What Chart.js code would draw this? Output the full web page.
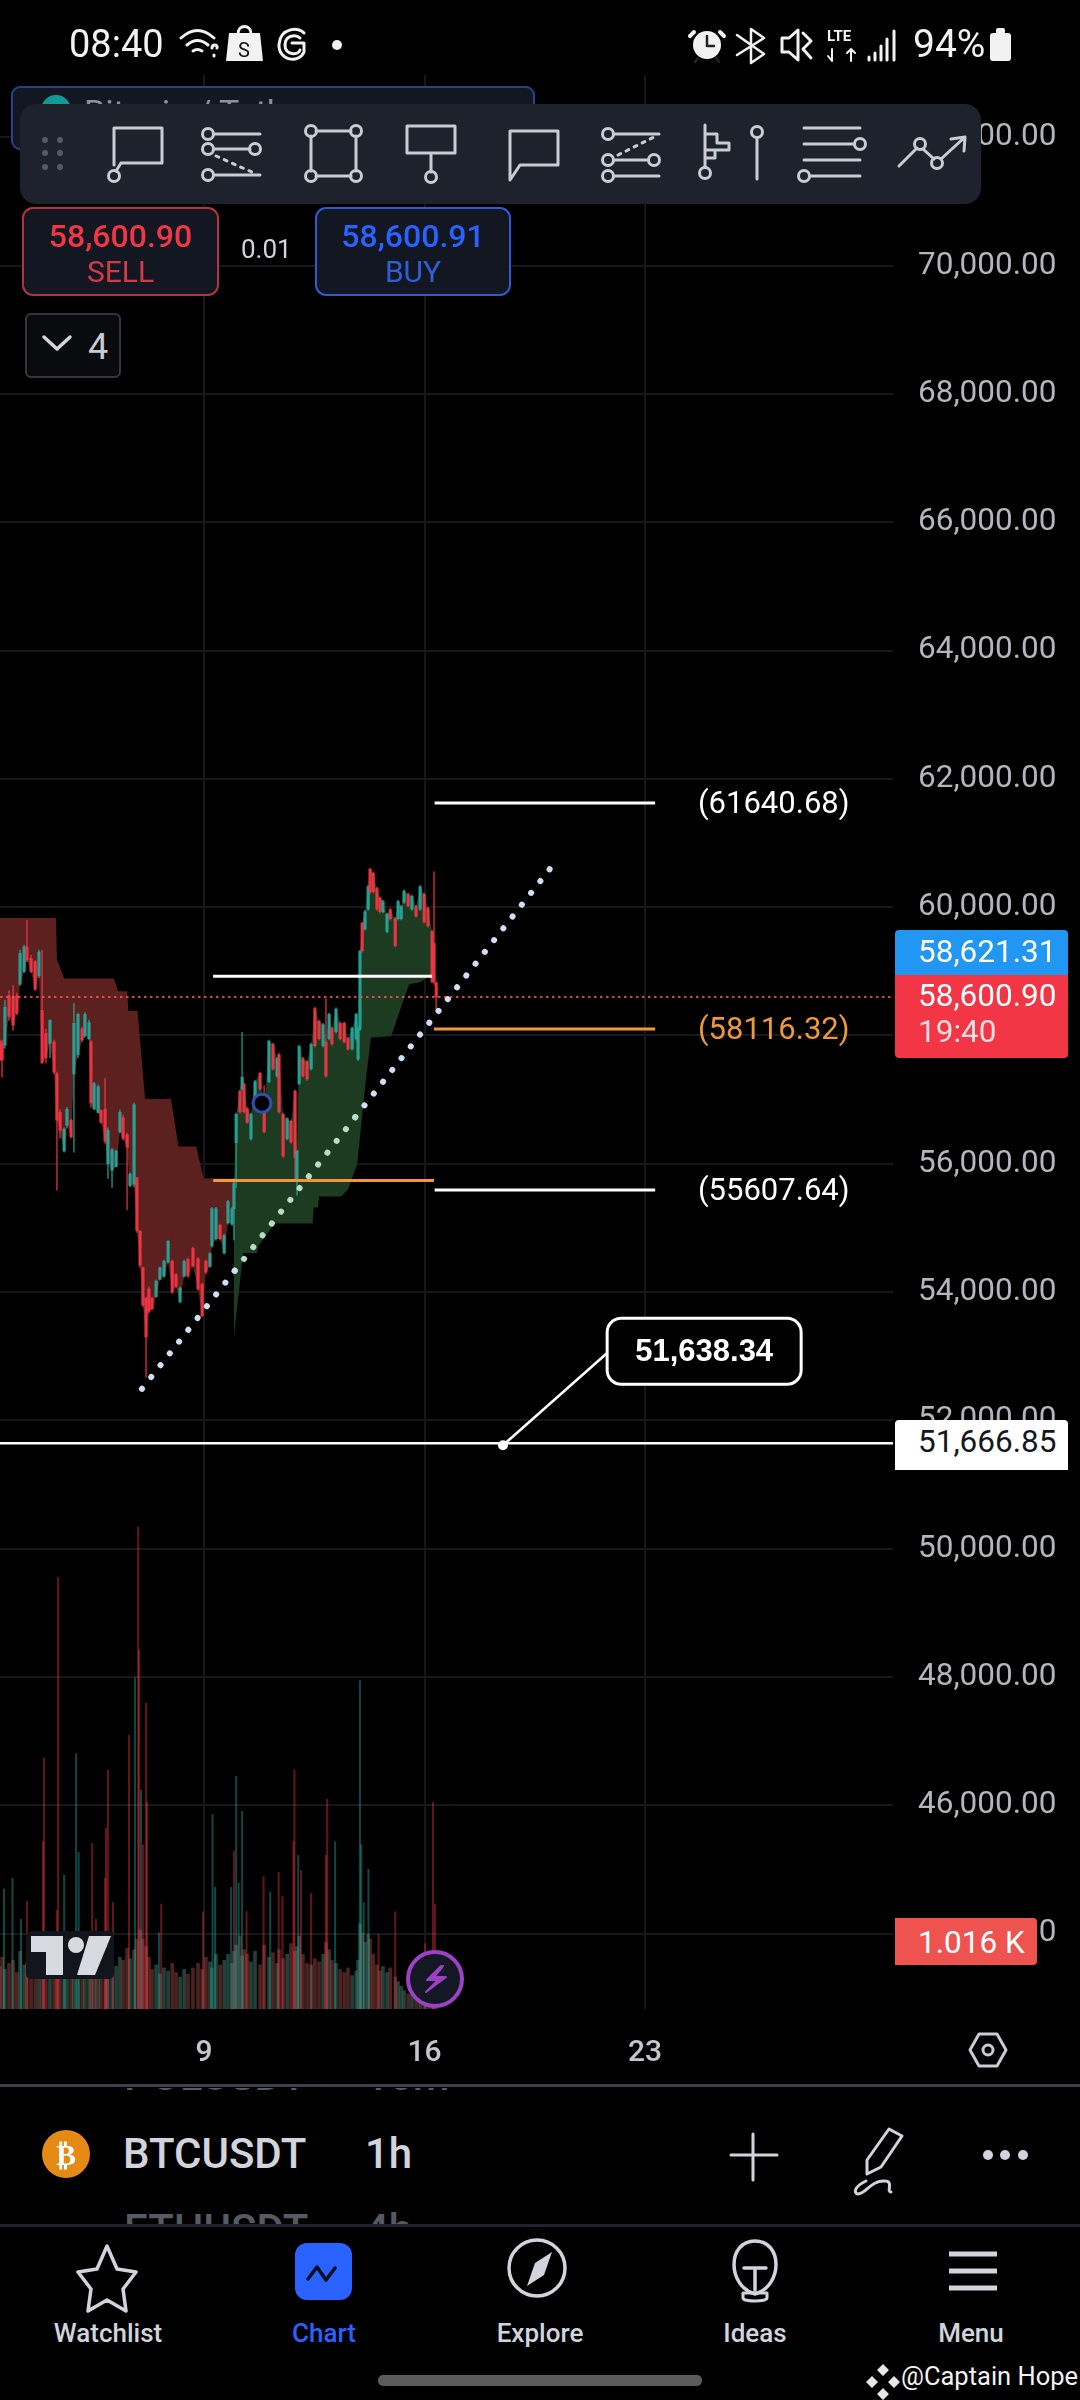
<!DOCTYPE html>
<html>
<head>
<meta charset="utf-8">
<title>BTCUSDT 1h</title>
<script src="https://cdn.jsdelivr.net/npm/chart.js@4"></script>
<style>
  html, body { margin: 0; padding: 0; background: #000; }
  body { position: relative; width: 1080px; height: 2400px; overflow: hidden; font-family: Roboto, sans-serif; color: #d1d4dc; }
  canvas { position: absolute; left: 0; top: 0; }
  svg { position: absolute; left: 0; top: 0; }
  .t { position: absolute; white-space: nowrap; line-height: 1; }
  .box { position: absolute; box-sizing: border-box; }
  .nav { position: absolute; top: 2320px; width: 200px; text-align: center; font-size: 26px; font-weight: 500; line-height: 1; color: #d1d4dc; }
</style>
</head>
<body>
<canvas id="chart" width="1080" height="2085"></canvas>

<!-- header behind the toolbar -->
<div class="box" style="left:11px;top:86px;width:524px;height:64px;background:#131722;border:2px solid #24428f;border-radius:9px;overflow:hidden">
  <div class="box" style="left:28px;top:7px;width:30px;height:30px;border-radius:15px;background:#0f9c94"></div>
  <div class="t" style="left:71px;top:7px;font-size:34px;color:#8d919b">Bitcoin / Tether</div>
</div>
<div class="box" style="left:20px;top:104px;width:961px;height:100px;background:#1e222d;border-radius:16px"></div>

<!-- order buttons -->
<div class="box" style="left:22px;top:207px;width:197px;height:89px;background:#131722;border:2px solid #b3333f;border-radius:11px"></div>
<div class="t" style="left:22px;width:197px;text-align:center;top:220px;font-size:32px;font-weight:500;color:#f23645">58,600.90</div>
<div class="t" style="left:22px;width:197px;text-align:center;top:257px;font-size:30px;color:#d13a46">SELL</div>
<div class="t" style="left:241px;top:236px;font-size:26px;color:#d1d4dc">0.01</div>
<div class="box" style="left:315px;top:207px;width:196px;height:89px;background:#131722;border:2px solid #2e5bd0;border-radius:11px"></div>
<div class="t" style="left:315px;width:196px;text-align:center;top:220px;font-size:32px;font-weight:500;color:#2962ff">58,600.91</div>
<div class="t" style="left:315px;width:196px;text-align:center;top:257px;font-size:30px;color:#2f5fd8">BUY</div>
<div class="box" style="left:25px;top:313px;width:96px;height:65px;background:#0a0b0e;border:2px solid #33363e;border-radius:6px"></div>
<div class="t" style="left:88px;top:329px;font-size:36px;color:#c9ccd3">4</div>

<!-- status bar -->
<div class="t" style="left:69px;top:25px;font-size:38px;color:#f2f2f2">08:40</div>
<div class="t" style="left:913px;top:25px;font-size:39px;color:#f2f2f2">94%</div>
<div class="t" style="left:827px;top:29px;font-size:15px;font-weight:700;color:#f2f2f2">LTE</div>

<!-- price labels -->
<div class="box" style="left:895px;top:930px;width:173px;height:45px;background:#2196f3;border-radius:4px 4px 0 0"></div>
<div class="t" style="left:918px;top:936px;font-size:31.5px;color:#fff">58,621.31</div>
<div class="box" style="left:895px;top:975px;width:173px;height:83px;background:#f23645;border-radius:0 0 4px 4px"></div>
<div class="t" style="left:918px;top:980px;font-size:31.5px;color:#fff">58,600.90</div>
<div class="t" style="left:918px;top:1016px;font-size:31.5px;color:#f9dfe1">19:40</div>
<div class="box" style="left:895px;top:1420px;width:173px;height:50px;background:#fff;border-radius:4px 4px 0 0"></div>
<div class="t" style="left:918px;top:1426px;font-size:31.5px;color:#131722">51,666.85</div>
<div class="box" style="left:895px;top:1918px;width:142px;height:47px;background:#ef5350;border-radius:0 4px 4px 0"></div>
<div class="t" style="left:918px;top:1927px;font-size:31.5px;color:#fff">1.016 K</div>

<!-- bottom bar -->
<div class="box" style="left:0;top:2088px;width:1080px;height:8px;overflow:hidden">
  <div class="t" style="left:124px;top:-33px;font-size:42px;font-weight:500;color:#555a63">POLUSDT</div>
  <div class="t" style="left:365px;top:-33px;font-size:42px;font-weight:500;color:#555a63">15m</div>
</div>
<div class="box" style="left:0;top:2084px;width:1080px;height:3px;background:#3c404b"></div>
<div class="t" style="left:123px;top:2133px;font-size:42px;font-weight:500;color:#d1d4dc">BTCUSDT</div>
<div class="t" style="left:365px;top:2133px;font-size:42px;font-weight:500;color:#d1d4dc">1h</div>
<div class="box" style="left:0;top:2212px;width:1080px;height:12px;overflow:hidden">
  <div class="t" style="left:124px;top:-3px;font-size:42px;font-weight:500;color:#555a63">ETHUSDT</div>
  <div class="t" style="left:365px;top:-3px;font-size:42px;font-weight:500;color:#555a63">4h</div>
</div>
<div class="box" style="left:0;top:2224px;width:1080px;height:3px;background:#1e222d"></div>
<div class="nav" style="left:8px">Watchlist</div>
<div class="nav" style="left:224px;color:#2962ff">Chart</div>
<div class="nav" style="left:440px">Explore</div>
<div class="nav" style="left:655px">Ideas</div>
<div class="nav" style="left:871px">Menu</div>
<div class="box" style="left:378px;top:2375px;width:324px;height:11px;background:#5c5c5c;border-radius:5px"></div>
<div class="t" style="left:901px;top:2364px;font-size:25.5px;color:#f2f2f2">@Captain Hope</div>

<svg width="1080" height="2400" viewBox="0 0 1080 2400" fill="none" stroke-linecap="round" stroke-linejoin="round">
  <!-- status icons -->
  <g stroke="#f2f2f2" stroke-width="3">
    <path d="M181 38c11-10 22-10 33 0M187 45c7-6 14-6 21 0M193 51c3-2 6-2 9 0"/>
    <path d="M212 48c0-4 6-4 5 0M214 55v1"/>
    <path d="M238 34c0-10 13-10 13 0"/>
    <path d="M304 33c-5-6-23-6-25 11c-1 17 20 20 25 8v-9h-12M300 38c-4-4-15-3-15 7c0 10 13 11 15 5"/>
    <path d="M737 35l27 19-13 9V29l13 9-27 17" stroke-width="2.5"/>
    <path d="M782 38h7l9-8v30l-9-8h-7zM803 33l8 8-8 8 8 9"/>
    <path d="M832 49v12M828 56l4 5M851 61V49M847 53l4-4 4 4" stroke-width="2"/>
  </g>
  <path d="M229 33h31l3 28h-37z" fill="#f2f2f2"/>
  <text x="238" y="57" font-size="20" font-family="Roboto" fill="#111">S</text>
  <circle cx="337" cy="45" r="5" fill="#f2f2f2"/>
  <circle cx="707" cy="45" r="14" fill="#f2f2f2"/>
  <path d="M707 36v10h7M698 58l-3 4M716 58l3 4" stroke="#222" stroke-width="2.5"/>
  <path d="M694 32l-4 4M720 32l4 4" stroke="#f2f2f2" stroke-width="4"/>
  <path d="M869 60v-3M875 60v-7M881 60V46M887 60V39M894 60V31" stroke="#f2f2f2" stroke-width="3"/>
  <rect x="990" y="33" width="21" height="28" rx="3" fill="#f2f2f2"/>
  <rect x="996" y="28" width="9" height="6" rx="2" fill="#f2f2f2"/>

  <!-- toolbar icons -->
  <circle cx="45" cy="140" r="3" fill="#555a66"/><circle cx="60" cy="140" r="3" fill="#555a66"/>
  <circle cx="45" cy="153" r="3" fill="#555a66"/><circle cx="60" cy="153" r="3" fill="#555a66"/>
  <circle cx="45" cy="167" r="3" fill="#555a66"/><circle cx="60" cy="167" r="3" fill="#555a66"/>
  <g stroke="#c9ccd3" stroke-width="3">
    <path d="M114 165V128h48v35h-41l-5 8"/><circle cx="114" cy="176" r="5.5"/>
    <path d="M214 134h46M214 149h36M214 175h46"/><circle cx="208" cy="134" r="5.5"/><circle cx="208" cy="149" r="5.5"/><circle cx="255" cy="149" r="5.5"/><circle cx="208" cy="175" r="5.5"/>
    <path d="M216 156l38 17" stroke-dasharray="3 6"/>
    <path d="M316 131h35M316 176h35M311 136v35M356 136v35"/><circle cx="311" cy="131" r="5.5"/><circle cx="356" cy="131" r="5.5"/><circle cx="311" cy="176" r="5.5"/><circle cx="356" cy="176" r="5.5"/>
    <path d="M407 126h48v27h-48zM431 153v19"/><circle cx="431" cy="177" r="5.5"/>
    <path d="M510 131h48v34h-38l-10 15z"/>
    <path d="M614 134h45M614 160h34M614 176h45"/><circle cx="608" cy="134" r="5.5"/><circle cx="608" cy="160" r="5.5"/><circle cx="654" cy="160" r="5.5"/><circle cx="608" cy="176" r="5.5"/>
    <path d="M618 155l36-18" stroke-dasharray="3 6"/>
    <path d="M705 125v42M705 134h12v9h12v7h-24M705 150h10v8h-10"/><circle cx="705" cy="173" r="5.5"/>
    <path d="M757 138v41"/><circle cx="757" cy="132" r="5.5"/>
    <path d="M804 128h56M804 144h50M804 160h56M811 176h49"/><circle cx="860" cy="144" r="5.5"/><circle cx="804" cy="176" r="5.5"/>
    <path d="M899 166l18-18M923 149l11 10M941 159l24-22M951 139l14-2-1 14"/><circle cx="920" cy="144" r="5.5"/><circle cx="937" cy="163" r="5.5"/>
  </g>
  <path d="M44 337l13 12 13-12" stroke="#d1d4dc" stroke-width="3.5"/>

  <!-- watermark logo -->
  <rect x="26" y="1931" width="88" height="48" rx="5" fill="#12151d"/>
  <path d="M31 1936h32v39H46v-23H31z" fill="#d8dae2"/>
  <circle cx="76" cy="1945" r="8" fill="#d8dae2"/>
  <path d="M89 1936h22l-16 39H77z" fill="#d8dae2"/>

  <!-- bolt badge -->
  <circle cx="435" cy="1979" r="27" fill="#141824" stroke="#9c40c4" stroke-width="4"/>
  <path d="M441 1966l-14 14h11l-12 12 20-15h-12l9-11z" fill="#9c40c4" stroke="#9c40c4" stroke-width="2"/>

  <!-- settings hexagon -->
  <path d="M970 2050l9-16h18l9 16-9 16h-18z" stroke="#c9ccd3" stroke-width="3"/>
  <circle cx="988" cy="2050" r="5" stroke="#c9ccd3" stroke-width="3"/>

  <!-- symbol row -->
  <circle cx="66" cy="2154" r="24" fill="#e58a14"/>
  <text x="66" y="2165" text-anchor="middle" font-family="Roboto" font-weight="700" font-size="30" fill="#fff">₿</text>
  <path d="M753 2134v46M731 2155h46" stroke="#d1d4dc" stroke-width="3"/>
  <path d="M867 2160l22-31 13 7-21 31-14 7zM866 2181c-13 6-12 13-8 13 8 0 13-14 27-13 9 0 1 11 6 11" stroke="#d1d4dc" stroke-width="3"/>
  <circle cx="988" cy="2155" r="5" fill="#d1d4dc"/><circle cx="1005" cy="2155" r="5" fill="#d1d4dc"/><circle cx="1023" cy="2155" r="5" fill="#d1d4dc"/>

  <!-- nav icons -->
  <path d="M107 2246l10 23 19 3-13 17 3 22-19-11-19 11 3-22-13-17 19-3z" stroke="#d1d4dc" stroke-width="3.5"/>
  <rect x="295" y="2243" width="57" height="57" rx="12" fill="#2962ff"/>
  <path d="M308 2279l9-12 9 13 9-12" stroke="#0b0f1c" stroke-width="3.5"/>
  <circle cx="537" cy="2268" r="28" stroke="#d1d4dc" stroke-width="3.5"/>
  <path d="M552 2252l-8 23-17 11 8-23z" fill="#d1d4dc"/>
  <path d="M755 2294c-28-8-28-53 0-53s28 45 0 53zM744 2268h22M755 2268v22" stroke="#d1d4dc" stroke-width="3.5"/>
  <path d="M743 2293h24v5c0 4-24 4-24 0z" stroke="#d1d4dc" stroke-width="3"/>
  <path d="M949 2254h48M949 2271h48M949 2288h48" stroke="#d1d4dc" stroke-width="5" stroke-linecap="butt"/>

  <!-- watermark diamonds -->
  <path d="M883 2364l6 6-6 6-6-6zM883 2388l6 6-6 6-6-6zM872 2376l6 6-6 6-6-6zM894 2376l6 6-6 6-6-6z" fill="#e6e6e6"/>
</svg>

<script>
// Price chart values (hourly candles, x is day of the month)
const candleDays = [2.52,2.59,2.68,2.81,2.94,3.06,3.16,3.29,3.38,3.51,3.64,3.76,3.86,3.98,4.11,4.24,4.33,4.43,4.56,4.65,4.78,4.87,5.00,5.13,5.22,5.35,5.41,5.51,5.64,5.73,5.86,5.95,6.08,6.21,6.33,6.43,6.56,6.65,6.78,6.87,6.97,7.06,7.16,7.25,7.35,7.48,7.60,7.73,7.86,7.99,8.11,8.24,8.37,8.49,8.65,8.81,8.94,9.06,9.19,9.25,9.38,9.51,9.64,9.76,9.89,9.95,10.02,10.14,10.21,10.27,10.37,10.49,10.62,10.78,10.91,11.06,11.19,11.32,11.38,11.51,11.64,11.76,11.89,11.95,12.02,12.14,12.27,12.40,12.52,12.65,12.78,12.87,12.97,13.06,13.19,13.32,13.45,13.57,13.70,13.83,13.89,13.95,14.02,14.11,14.21,14.27,14.37,14.49,14.59,14.68,14.81,14.91,15.07,15.16,15.26,15.35,15.48,15.60,15.73,15.86,15.99,16.11,16.24,16.30,16.37];
const candleOpen = [57900,57880,57850,58620,58600,58620,58800,59000,59380,59200,59150,58930,58390,58030,57880,57900,57400,56800,56200,56600,56680,57400,57700,58100,58000,57950,57900,56860,56800,56830,56850,56000,55900,55960,56500,56720,56450,55660,55680,55780,54950,54380,53900,54050,53900,53930,54200,54250,54470,54480,54270,53850,54250,54510,54680,54520,54120,54480,54400,54720,54830,55040,54610,55080,55060,55300,56330,57130,57160,57240,56860,56390,57000,57410,56790,57280,57860,57370,57700,56770,56390,56660,57130,55750,57250,57640,57590,57480,58420,58220,57840,57900,57950,58110,58060,58190,58190,57950,57790,57950,57630,58100,59750,59660,59970,60590,60530,60290,60140,59930,59620,59960,59820,59820,59820,60080,60200,59970,60010,59970,60200,59980,59620,59440,58820];
const candleClose = [57620,57620,58440,58300,58160,58350,59280,59380,59180,59000,58720,59300,57570,57650,58240,57430,56680,56520,56540,56850,56420,58190,58330,57930,58330,58200,56950,57250,57200,56650,56350,56520,56220,56200,56800,56400,56260,55840,56920,54960,54420,53800,53300,53700,53740,54170,54380,54480,54790,54000,54090,54060,54480,54250,54410,54050,53630,54310,54600,55300,55300,54830,54880,55410,55300,55700,56770,56810,57350,56810,56650,56770,57280,57170,56500,57910,57480,57640,56810,56120,56700,56340,56100,56200,57830,57370,57320,57860,57840,57950,58170,57370,58330,57870,58410,57950,57900,57790,58110,58330,58110,59310,59320,59930,60320,60240,60240,59970,59930,60090,59890,59820,59400,60090,60010,60250,60020,60170,59860,60320,59770,59710,58840,58840,58600];
const candleHigh = [57930,57930,58550,58700,58780,58660,59330,59410,59800,59250,59170,59330,59330,58100,58240,57930,57430,56840,56560,56880,56700,58500,58350,58130,58360,58240,57930,57270,57230,56840,57330,56560,56240,56210,56840,56760,56480,55860,56950,55790,54960,54390,53920,54080,53920,54190,54390,54500,54810,54500,54290,54080,54500,54530,54700,54540,54140,54500,54610,55320,55320,55060,54900,55430,55320,55770,56790,57150,58050,57260,56880,56790,57300,57430,57220,57930,57880,57660,57720,56790,56720,56680,57150,56210,57850,57660,57610,57880,58440,58240,58190,58570,58350,58130,58430,58210,58210,57970,58130,58350,58130,59330,59770,59950,60340,60610,60550,60310,60160,60110,59910,59980,59840,60110,60030,60270,60220,60190,60030,60340,60220,60000,59640,60550,58840];
const candleLow = [57600,57350,57800,58240,58080,58320,58780,58980,59150,58980,58700,58900,57570,57570,57650,57400,55590,56400,56180,56560,56400,56180,57650,57900,57970,57930,56880,56840,56790,56630,56320,55770,55630,55950,56480,56370,55280,55640,55640,54930,54390,53770,52670,53670,53720,53920,54190,54230,54450,53980,54070,53830,54230,54230,54390,54030,53610,54290,54390,54700,54810,54810,54590,55060,55040,54810,55630,56790,57150,56790,56630,56370,56990,57150,56480,57260,57460,57350,56790,56100,56370,56320,55740,55510,57230,57350,57300,57460,57820,57930,57820,57350,57930,57850,58040,57930,57880,57770,57770,57930,57610,58080,59300,59640,59950,60220,60220,59950,59910,59910,59600,59800,59380,59800,59800,60060,60000,59950,59840,59950,59750,59690,58820,58800,58390];

// Volume in thousands, base level per candle and the tall spikes on their own days
const candleVolume = [2.8,3.4,2.6,3.0,3.2,2.4,3.8,2.9,3.1,2.5,2.7,3.3,3.5,2.6,3.1,3.6,2.9,4.2,3.3,2.7,3.0,4.4,3.7,3.2,2.9,3.4,3.0,3.6,2.8,3.3,4.1,3.5,3.0,2.8,3.4,3.2,4.0,3.3,3.9,4.6,5.2,4.6,4.1,3.4,2.6,2.9,2.3,2.7,2.5,3.0,2.4,2.1,2.6,2.3,2.7,3.0,2.6,3.4,3.1,2.7,3.6,2.9,3.2,3.6,3.0,3.8,4.2,4.8,3.5,3.9,3.6,3.1,3.8,2.9,4.2,3.4,3.7,3.0,3.9,3.3,3.6,4.3,3.8,4.1,4.8,3.6,3.0,2.9,3.3,3.1,3.6,4.4,3.9,3.2,3.0,2.6,2.4,2.7,2.2,2.5,3.2,5.6,5.0,4.4,4.9,4.6,3.6,2.9,2.5,2.8,2.4,2.7,2.1,1.8,1.5,1.2,1.0,0.9,0.7,0.8,0.9,0.8,1.3,1.6,1.016];
const downSpikeDays = [3.38,3.89,3.92,4.33,4.37,5.45,5.57,5.86,5.89,5.95,6.11,6.62,6.91,6.94,7.06,7.16,7.19,7.64,8.97,9.95,10.35,10.89,11.37,11.49,11.84,11.87,12.08,12.40,12.87,12.91,14.54,15.07,16.02,16.27,16.33];
const downSpikeVolume = [7.1,11.0,16.5,6.5,28.4,10.9,5.9,8.6,11.9,15.7,7.0,18.0,31.7,23.6,10.8,20.1,13.6,6.9,6.4,10.4,6.4,8.7,9.0,7.4,11.0,15.7,9.1,7.6,10.1,13.8,4.9,6.4,4.3,13.6,6.9];
const upSpikeDays = [2.65,2.92,3.19,4.56,4.94,5.02,6.81,7.00,7.57,9.27,9.35,9.86,10.02,10.10,10.21,11.10,11.99,13.16,13.95,13.99,14.07,14.22];
const upSpikeVolume = [7.9,8.6,5.9,8.8,16.8,10.3,21.8,14.4,5.0,12.8,8.0,8.0,15.3,8.3,13.0,7.7,10.1,11.0,21.6,10.8,7.0,9.2];

// Step edges of the shaded cloud
const redEdgeDays = [2.52,4.30,4.33,4.51,4.56,6.14,6.27,6.56,6.60,6.89,7.13,7.95,8.19,8.75,8.99,9.95];
const redEdgePrices = [59830,59830,59190,58960,58890,58890,58690,58690,58380,58380,57010,57010,56270,56270,55770,55770];
const greenEdgeDays = [9.95,10.24,10.68,10.72,11.25,12.45,12.48,12.62,12.65,13.35,13.57,13.86,14.14,14.30,14.94,15.33,15.51,15.86,16.24];
const greenEdgePrices = [53310,54610,54610,54720,55070,55070,55320,55320,55490,55490,55600,55990,57320,57970,57990,58550,58800,58830,58940];

// Drawn levels and the trend line
const fullDays = [2.524,30.87];
const lastPrice = 58600.9;
const markedPrice = 51645;
const whiteLevelStart = [16.32,16.32,9.29];
const whiteLevelEnd = [23.32,23.32,16.24];
const whiteLevelPrice = [61625,55590,58924];
const orangeLevelStart = [16.30,9.29];
const orangeLevelEnd = [23.32,16.30];
const orangeLevelPrice = [58100,55740];
const levelLabels = ["(61640.68)","(58116.32)","(55607.64)"];
const levelLabelPrices = [61625,58100,55590];
const levelLabelDay = 24.68;
const trendDays = [7.03,9.975,13.80,20.0];
const trendPrices = [52492,54333,56726,60610];
const calloutDays = [18.49,21.86];
const calloutPrices = [51613,53078];
const calloutText = "51,638.34";
const markerDay = 10.84;
const markerPrice = 56944;

// Axis ticks
const dayTicks = [9,16,23];
const priceMin = 42824;
const priceMax = 72973;
const priceStep = 2000;
const volumeMax = 127.2;

const RED = "rgba(242,54,69,0.88)";
const TEAL = "rgba(38,166,154,0.88)";

function zip(xs, ys) {
    return xs.map((x, i) => ({ x: x, y: ys[i] }));
}

function candleColors(up, down) {
    return candleOpen.map((o, i) => candleClose[i] >= o ? up : down);
}

// Top or bottom of the candle bodies inside a day range, for the cloud fill
function bodyEdge(from, to, pick) {
    const out = [];
    candleDays.forEach((d, i) => {
        if (d >= from && d <= to) out.push({ x: d, y: pick(candleOpen[i], candleClose[i]) });
    });
    return out;
}

function levelDatasets(starts, ends, prices, color) {
    return prices.map((p, i) => ({
        type: "line",
        data: [{ x: starts[i], y: p }, { x: ends[i], y: p }],
        borderColor: color,
        borderWidth: 3,
        pointRadius: 0,
        order: 2
    }));
}

function trendPart(a, color) {
    return {
        type: "line",
        data: zip(trendDays.slice(a, a + 2), trendPrices.slice(a, a + 2)),
        borderColor: color,
        borderWidth: 6,
        borderDash: [0.1, 14.9],
        borderCapStyle: "round",
        pointRadius: 0,
        order: 3
    };
}

const datasets = [
    // levels on top
    ...levelDatasets(whiteLevelStart, whiteLevelEnd, whiteLevelPrice, "#ffffff"),
    ...levelDatasets(orangeLevelStart, orangeLevelEnd, orangeLevelPrice, "#f0973a"),
    {
        type: "line",
        data: fullDays.map(d => ({ x: d, y: markedPrice })),
        borderColor: "#ffffff",
        borderWidth: 2.5,
        pointRadius: 0,
        order: 2
    },
    {
        type: "line",
        data: fullDays.map(d => ({ x: d, y: lastPrice })),
        borderColor: "rgba(239,83,80,0.85)",
        borderWidth: 2,
        borderDash: [2.5, 3.5],
        pointRadius: 0,
        order: 4
    },
    {
        type: "line",
        data: zip(calloutDays, calloutPrices),
        borderColor: "#ffffff",
        borderWidth: 2.5,
        pointRadius: [5, 0],
        pointBackgroundColor: "#ffffff",
        pointBorderWidth: 0,
        order: 1
    },
    trendPart(0, "#cfdff6"),
    trendPart(1, "#b6dcc4"),
    trendPart(2, "#cfdff6"),
    {
        type: "scatter",
        data: [{ x: markerDay, y: markerPrice }],
        pointRadius: 9,
        pointBackgroundColor: "#000",
        pointBorderColor: "#2f4fb5",
        pointBorderWidth: 3,
        order: 1
    },
    // candles
    {
        type: "bar",
        data: candleDays.map((d, i) => ({ x: d, y: [Math.min(candleOpen[i], candleClose[i]), Math.max(candleOpen[i], candleClose[i])] })),
        backgroundColor: candleColors(TEAL, RED),
        barThickness: 2.6,
        grouped: false,
        order: 5
    },
    {
        type: "bar",
        data: candleDays.map((d, i) => ({ x: d, y: [candleLow[i], candleHigh[i]] })),
        backgroundColor: candleColors("rgba(38,166,154,0.65)", "rgba(242,54,69,0.65)"),
        barThickness: 1.2,
        grouped: false,
        order: 6
    },
    // cloud
    {
        type: "line",
        data: zip(redEdgeDays, redEdgePrices),
        borderWidth: 0,
        pointRadius: 0,
        backgroundColor: "#5c201f",
        order: 8,
        cloud: "red"
    },
    {
        type: "line",
        data: bodyEdge(2.52, 9.95, Math.min),
        borderWidth: 0,
        pointRadius: 0,
        order: 9,
        cloudBase: "red"
    },
    {
        type: "line",
        data: zip(greenEdgeDays, greenEdgePrices),
        borderWidth: 0,
        pointRadius: 0,
        backgroundColor: "#1d3b20",
        order: 8,
        cloud: "green"
    },
    {
        type: "line",
        data: bodyEdge(9.95, 16.24, Math.max),
        borderWidth: 0,
        pointRadius: 0,
        order: 9,
        cloudBase: "green"
    },
    // volume
    {
        type: "bar",
        yAxisID: "vol",
        data: zip(downSpikeDays, downSpikeVolume),
        backgroundColor: "rgba(242,54,69,0.4)",
        barThickness: 1.4,
        grouped: false,
        order: 10
    },
    {
        type: "bar",
        yAxisID: "vol",
        data: zip(upSpikeDays, upSpikeVolume),
        backgroundColor: "rgba(38,166,154,0.42)",
        barThickness: 1.4,
        grouped: false,
        order: 10
    },
    {
        type: "bar",
        yAxisID: "vol",
        data: zip(candleDays, candleVolume),
        backgroundColor: candleColors("rgba(70,125,110,0.5)", "rgba(150,72,66,0.5)"),
        barThickness: 3,
        grouped: false,
        order: 11
    }
];

// point each cloud edge at its base dataset
datasets.forEach(ds => {
    if (ds.cloud) {
        ds.fill = { target: datasets.findIndex(o => o.cloudBase === ds.cloud) };
    }
});

// Text next to the short levels and the callout box
const labelPlugin = {
    id: "labels",
    afterDatasetsDraw(chart) {
        const ctx = chart.ctx;
        const x = chart.scales.x;
        const y = chart.scales.y;
        ctx.save();
        ctx.textBaseline = "middle";
        ctx.textAlign = "left";
        ctx.font = "31px Roboto";
        levelLabels.forEach((txt, i) => {
            ctx.fillStyle = i === 1 ? "#f0973a" : "#ffffff";
            ctx.fillText(txt, x.getPixelForValue(levelLabelDay), y.getPixelForValue(levelLabelPrices[i]) + 2);
        });

        // callout box sits at the end of the connector
        const bx = x.getPixelForValue(calloutDays[1]) - 2;
        const by = y.getPixelForValue(calloutPrices[1]) - 33;
        ctx.beginPath();
        ctx.roundRect(bx, by, 194, 66, 14);
        ctx.fillStyle = "#000";
        ctx.fill();
        ctx.strokeStyle = "#ffffff";
        ctx.lineWidth = 3;
        ctx.stroke();
        ctx.fillStyle = "#ffffff";
        ctx.font = "700 31px 'Liberation Sans'";
        ctx.textAlign = "center";
        ctx.fillText(calloutText, bx + 97, by + 34);
        ctx.restore();
    }
};

new Chart(document.getElementById("chart"), {
    type: "bar",
    data: { datasets: datasets },
    plugins: [labelPlugin],
    options: {
        responsive: false,
        animation: false,
        devicePixelRatio: 1,
        layout: { autoPadding: false, padding: { top: 75, left: 0, right: 0, bottom: 0 } },
        plugins: { legend: { display: false }, tooltip: { enabled: false } },
        scales: {
            x: {
                type: "linear",
                min: 2.524,
                max: 30.87,
                offset: false,
                grid: { color: "#18181a", lineWidth: 2, drawTicks: false, offset: false },
                border: { display: false },
                afterBuildTicks(scale) {
                    scale.ticks = dayTicks.map(d => ({ value: d }));
                },
                afterFit(scale) {
                    scale.height = 76;
                    scale.paddingLeft = 0;
                    scale.paddingRight = 0;
                },
                ticks: {
                    color: "#c4c6ce",
                    padding: 26,
                    maxRotation: 0,
                    autoSkip: false,
                    font: { family: "Roboto", size: 30, weight: "500" },
                    callback: v => String(v)
                }
            },
            y: {
                position: "right",
                min: priceMin,
                max: priceMax,
                grid: { color: "#18181a", lineWidth: 2, drawTicks: false },
                border: { display: false },
                afterBuildTicks(scale) {
                    const out = [];
                    for (let v = 44000; v <= 72000; v += priceStep) out.push({ value: v });
                    scale.ticks = out;
                },
                afterFit(scale) {
                    scale.width = 187;
                    scale.paddingTop = 0;
                    scale.paddingBottom = 0;
                },
                ticks: {
                    color: "#b4b6bd",
                    padding: 25,
                    autoSkip: false,
                    font: { family: "Roboto", size: 31.5 },
                    callback: v => v.toLocaleString("en-US", { minimumFractionDigits: 2, maximumFractionDigits: 2 })
                }
            },
            vol: {
                position: "right",
                display: false,
                min: 0,
                max: volumeMax
            }
        }
    }
});
</script>
</body>
</html>
